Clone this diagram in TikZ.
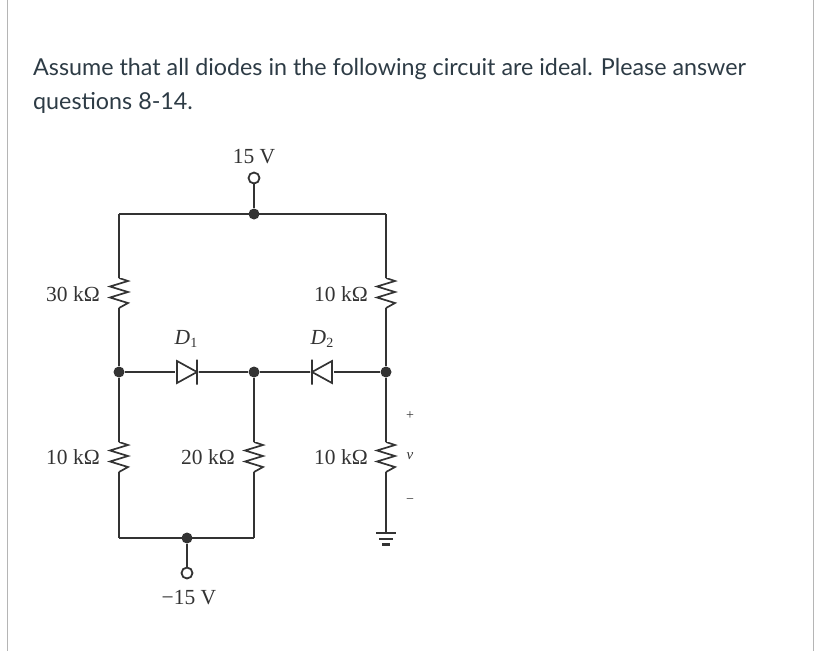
\documentclass[tikz,border=0pt]{standalone}
\usepackage{fontspec}
\setmainfont{Liberation Serif}
\newfontfamily\latofont{Lato}
\definecolor{wirecol}{HTML}{333333}
\definecolor{textcol}{HTML}{2D3B45}
\definecolor{framecol}{HTML}{B5B5B5}
\newcommand{\dname}[1]{\textit{D}\raisebox{-3.5pt}{\fontsize{14}{14}\selectfont #1}}
\tikzset{
  wire/.style={line width=1.7pt,wirecol},
  junction/.style={circle,fill=wirecol,draw=none,inner sep=0,minimum size=11pt},
  terminal/.style={circle,fill=white,draw=wirecol,line width=1.8pt,inner sep=0,minimum size=11pt},
  label/.style={inner sep=0,text=wirecol,font=\fontsize{21.5}{21.5}\selectfont},
  resistor/.style={inner sep=0,minimum width=24pt,minimum height=30pt,path picture={
      \draw[wire,shift={(path picture bounding box.center)}] (0,-15) -- (9,-12) -- (-9,-6.5) -- (9,-1) -- (-9,4.5) -- (9,10) -- (0,15);}},
  dioderight/.style={inner sep=0,minimum width=24pt,minimum height=28pt,path picture={
      \draw[wire,shift={(path picture bounding box.center)}] (-10,-11) -- (10,0) -- (-10,11) -- cycle (10,-12.5) -- (10,12.5);}},
  diodeleft/.style={inner sep=0,minimum width=24pt,minimum height=28pt,path picture={
      \draw[wire,shift={(path picture bounding box.center)}] (10,-11) -- (-10,0) -- (10,11) -- cycle (-10,-12.5) -- (-10,12.5);}},
  gndbar/.style={line width=2.4pt,wirecol},
}
\begin{document}
\begin{tikzpicture}[x=1pt,y=-1pt]
  \useasboundingbox (0,0) rectangle (821,651);
  \draw[framecol,line width=1pt] (7,0) -- (7,651) (813,0) -- (813,651);
  % question text
  \node[anchor=base west,inner sep=0,text=textcol,font=\latofont\fontsize{23.3}{23.3}\selectfont] (line1) at (33,75) {Assume that all diodes in the following circuit are ideal. Please answer};
  \node[anchor=base west,inner sep=0,text=textcol,font=\latofont\fontsize{23.3}{23.3}\selectfont] (line2) at (33,109) {questions 8-14.};
  % junctions and terminals
  \node[terminal] (vtop) at (254,178) {};
  \node[junction] (jtop) at (254,214) {};
  \node[junction] (jleft) at (119,372) {};
  \node[junction] (jmid) at (254,372) {};
  \node[junction] (jright) at (386,372) {};
  \node[junction] (jbot) at (187,538) {};
  \node[terminal] (vbot) at (187,573) {};
  \coordinate (ctl) at (119,214);
  \coordinate (ctr) at (386,214);
  \coordinate (cbl) at (119,538);
  \coordinate (cbr) at (254,538);
  \coordinate (gnd) at (386,533);
  % resistors and diodes
  \node[resistor] (r1) at (119,293) {};
  \node[resistor] (r2) at (386,293) {};
  \node[resistor] (r3) at (119,457) {};
  \node[resistor] (r4) at (254,457) {};
  \node[resistor] (r5) at (386,457) {};
  \node[dioderight] (d1) at (187,372) {};
  \node[diodeleft] (d2) at (322,372) {};
  % wiring
  \draw[wire] (vtop) -- (jtop);
  \draw[wire] (ctl) -- (ctr);
  \draw[wire] (ctl) -- (r1.north);
  \draw[wire] (ctr) -- (r2.north);
  \draw[wire] (r1.south) -- (jleft);
  \draw[wire] (r2.south) -- (jright);
  \draw[wire] (jleft) -- (d1.west);
  \draw[wire] (d1.east) -- (jmid);
  \draw[wire] (jmid) -- (d2.west);
  \draw[wire] (d2.east) -- (jright);
  \draw[wire] (jleft) -- (r3.north);
  \draw[wire] (jmid) -- (r4.north);
  \draw[wire] (jright) -- (r5.north);
  \draw[wire] (r3.south) -- (cbl);
  \draw[wire] (r4.south) -- (cbr);
  \draw[wire] (cbl) -- (cbr);
  \draw[wire] (jbot) -- (vbot);
  \draw[wire] (r5.south) -- (gnd);
  % ground
  \draw[gndbar] (376,533) -- (396,533);
  \draw[gndbar] (379,539) -- (393,539);
  \draw[gndbar] (382,544.5) -- (390,544.5);
  % labels
  \node[label] (lvtop) at (254,157) {15 V};
  \node[label] (lr1) at (73,294) {30 kΩ};
  \node[label] (lr2) at (341,294) {10 kΩ};
  \node[label] (ld1) at (186,339) {\dname{1}};
  \node[label] (ld2) at (322,339) {\dname{2}};
  \node[label] (lr3) at (73,457) {10 kΩ};
  \node[label] (lr4) at (208,457) {20 kΩ};
  \node[label] (lr5) at (341,457) {10 kΩ};
  \node[label,font=\fontsize{14}{14}\selectfont] (lplus) at (410,416) {+};
  \node[label,font=\fontsize{15}{15}\selectfont\itshape] (lv) at (410,456) {v};
  \node[label,font=\fontsize{14}{14}\selectfont] (lminus) at (410,501) {\textminus};
  \node[label] (lvbot) at (189,598) {\textminus 15 V};
\end{tikzpicture}
\end{document}
